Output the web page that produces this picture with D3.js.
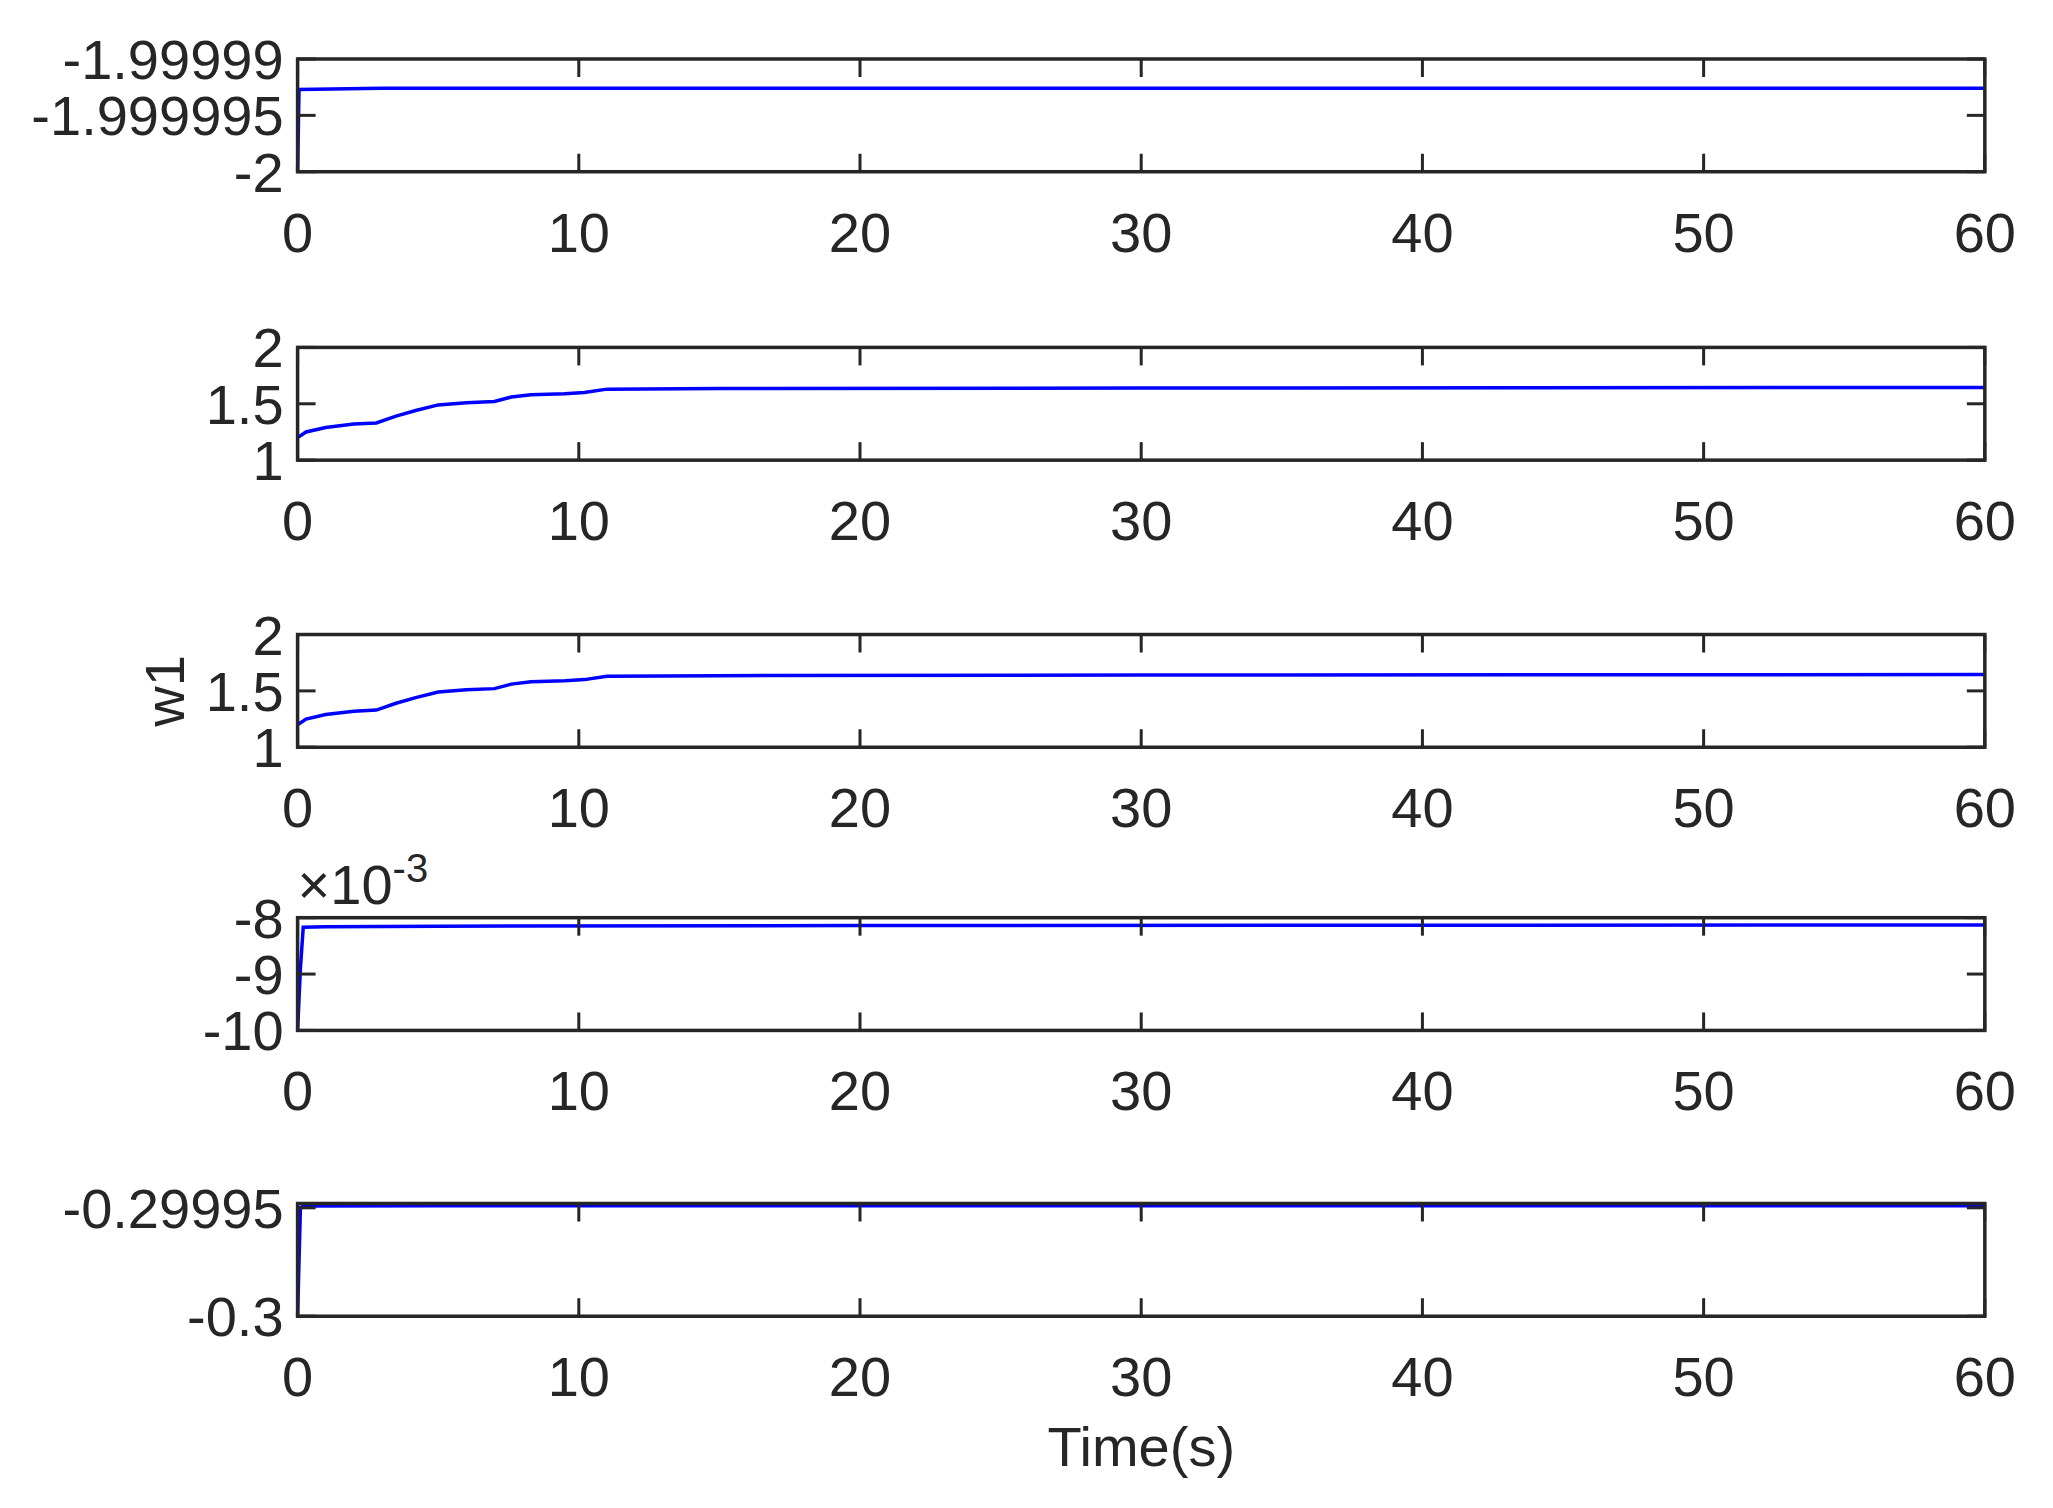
<!DOCTYPE html>
<html><head><meta charset="utf-8">
<script src="https://cdn.jsdelivr.net/npm/d3@7"></script>
<style>body{margin:0;background:#fff}text{font-family:Arial,"Liberation Sans",sans-serif;fill:#262626}</style>
</head><body>
<svg id="c" width="2053" height="1508"></svg>
<script>
var xTicks = [0,10,20,30,40,50,60];
// each panel: time, value
var t1 = [0,0.05,3,10,60];
var v1 = [-2,-1.9999927,-1.9999926,-1.9999926,-1.9999926];
var t2 = [0,0.3,1,2,2.8,3.5,4.2,5,6,7,7.6,8.3,9.5,10.2,11,15,30,60];
var v2 = [1.2,1.25,1.29,1.32,1.33,1.39,1.44,1.49,1.51,1.52,1.56,1.58,1.59,1.60,1.63,1.635,1.64,1.645];
var t4 = [0,0.1,0.2,1,5,20,60];
var v4 = [-10,-8.9,-8.17,-8.16,-8.15,-8.14,-8.13];
var t5 = [0,0.1,0.2,5,60];
var v5 = [-0.3,-0.29995,-0.2999492,-0.2999491,-0.299949];

var panels = [
  {t:t1, v:v1, dom:[-2,-1.99999], ticks:[-2,-1.999995,-1.99999], labels:["-2","-1.999995","-1.99999"]},
  {t:t2, v:v2, dom:[1,2], ticks:[1,1.5,2], labels:["1","1.5","2"]},
  {t:t2, v:v2, dom:[1,2], ticks:[1,1.5,2], labels:["1","1.5","2"], ylabel:"w1"},
  {t:t4, v:v4, dom:[-10,-8], ticks:[-10,-9,-8], labels:["-10","-9","-8"], exp:true},
  {t:t5, v:v5, dom:[-0.3,-0.299948], ticks:[-0.3,-0.29995], labels:["-0.3","-0.29995"]}
];
var k = 2053/1566;
var left = 227*k, right = 1514*k;
var tops = [45,265,484,700,918].map(function(d){return d*k;});
var ph = 86*k;
var fs = 56;
var svg = d3.select("#c");
var x = d3.scaleLinear().domain([0,60]).range([left,right]);

panels.forEach(function(p,i){
  var top = tops[i], bot = top+ph;
  var y = d3.scaleLinear().domain(p.dom).range([bot,top]);
  var g = svg.append("g");
  var line = d3.line().x(function(d){return x(d[0]);}).y(function(d){return y(d[1]);});
  g.append("path").datum(d3.zip(p.t,p.v)).attr("d",line)
    .attr("fill","none").attr("stroke","#0000ff").attr("stroke-width",3.5);
  xTicks.forEach(function(tv){
    g.append("line").attr("x1",x(tv)).attr("x2",x(tv)).attr("y1",bot).attr("y2",bot-18).attr("stroke","#262626").attr("stroke-width",3);
    g.append("line").attr("x1",x(tv)).attr("x2",x(tv)).attr("y1",top).attr("y2",top+18).attr("stroke","#262626").attr("stroke-width",3);
    g.append("text").attr("x",x(tv)).attr("y",bot+80).attr("text-anchor","middle").attr("font-size",fs).text(tv);
  });
  p.ticks.forEach(function(tv,j){
    g.append("line").attr("x1",left).attr("x2",left+18).attr("y1",y(tv)).attr("y2",y(tv)).attr("stroke","#262626").attr("stroke-width",3);
    g.append("line").attr("x1",right).attr("x2",right-18).attr("y1",y(tv)).attr("y2",y(tv)).attr("stroke","#262626").attr("stroke-width",3);
    g.append("text").attr("x",left-14).attr("y",y(tv)+20).attr("text-anchor","end").attr("font-size",fs).text(p.labels[j]);
  });
  g.append("rect").attr("x",left).attr("y",top).attr("width",right-left).attr("height",ph)
    .attr("fill","none").attr("stroke","#262626").attr("stroke-width",3.5);
  if (p.ylabel) {
    g.append("text").attr("transform","translate("+(140*k)+","+(top+ph/2)+") rotate(-90)")
      .attr("text-anchor","middle").attr("font-size",fs).text(p.ylabel);
  }
  if (p.exp) {
    var e = g.append("text").attr("x",left).attr("y",top-14).attr("font-size",fs);
    e.append("tspan").text("\u00d710");
    e.append("tspan").attr("dy",-22).attr("font-size",40).text("-3");
  }
});
svg.append("text").attr("x",(left+right)/2).attr("y",1118*k).attr("text-anchor","middle").attr("font-size",fs).text("Time(s)");
</script>
</body></html>
